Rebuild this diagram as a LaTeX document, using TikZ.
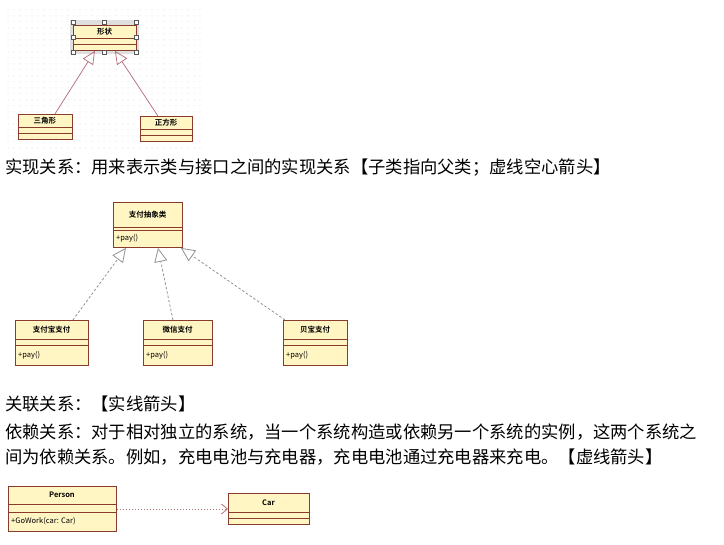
\documentclass[tikz,border=0pt]{standalone}
\usepackage{fontspec}
\setmainfont{Noto Sans CJK SC}[BoldFont={Noto Sans CJK SC Bold}]
\usetikzlibrary{arrows.meta}
\usetikzlibrary{calc}
\definecolor{umlfill}{HTML}{FFF6C4}
\definecolor{umledge}{HTML}{8A3B2E}
\definecolor{inheritline}{HTML}{B06A78}
\tikzstyle{umlbox}=[draw=umledge,fill=umlfill,line width=0.9pt,anchor=north west,inner sep=0pt]
\tikzstyle{umltitle}=[font=\fontsize{7.5}{8}\selectfont\bfseries,inner sep=0pt]
\tikzstyle{umlop}=[font=\fontsize{7.5}{8}\selectfont,inner sep=0pt,anchor=west]
\tikzstyle{inherit}=[draw=inheritline,line width=0.7pt,-{Triangle[open,length=13pt,width=12pt]}]
\tikzstyle{realize}=[draw=gray!85,line width=0.8pt,dash pattern=on 2.5pt off 2pt,-{Triangle[open,length=14pt,width=13pt]}]
\tikzstyle{depend}=[draw=umledge!70,line width=0.8pt,dash pattern=on 1.5pt off 1.5pt,-{Straight Barb[length=6pt,width=10pt]}]
\tikzstyle{para}=[font=\fontsize{17.3}{18}\selectfont,anchor=west,inner sep=0pt]
\tikzstyle{handle}=[draw=gray!70!black,fill=white,line width=0.5pt,minimum size=4pt,inner sep=0pt]
% Syntax: {name}{x1}{y1}{x2}{y2}{title}{first line}{second line}{operation}
\newcommand{\umlclass}[9]{
\node[umlbox,minimum width={(#4-#2)*1pt},minimum height={(#5-#3)*1pt}] (#1) at (#2,#3) {};
\node[umltitle] (#1-title) at ({(#2+#4)/2},{(#3+#7)/2}) {#6};
\draw[umledge,line width=0.9pt] (#2,#7) -- (#4,#7) (#2,#8) -- (#4,#8);
\node[umlop] (#1-op) at (#2+3,{(#8+#5)/2}) {#9};
}
\begin{document}
\begin{tikzpicture}[x=1pt,y=-1pt]
\useasboundingbox[fill=white] (0,0) rectangle (724,545);
% dotted canvas of the first diagram
\foreach \gx in {8,14,...,200}
  \foreach \gy in {10,16,...,148}
    \fill[gray!35] (\gx,\gy) circle (0.5pt);
\fill[gray!25] (70,20) rectangle (139,54);
\umlclass{shape}{73}{25}{136}{50}{形状}{38}{44}{}
\foreach \hx/\hy [count=\k] in {73/22,104/22,136/22,73/37,136/37,73/52,104/52,136/52}
  \node[handle] (h\k) at (\hx,\hy) {};
\umlclass{triangle}{18}{114}{72}{139}{三角形}{127}{133}{}
\umlclass{square}{140}{116}{192}{141}{正方形}{129}{135}{}
\draw[inherit] ([xshift=-18pt]triangle.north east) -- ([xshift=-10pt]shape.south);
\draw[inherit] ([xshift=-35pt]square.north east) -- ([xshift=10pt]shape.south);

\node[para] (t1) at (5,168) {实现关系：用来表示类与接口之间的实现关系【子类指向父类；虚线空心箭头】};

\umlclass{pay}{113}{202}{182}{247}{支付抽象类}{227}{230}{+pay()}
\umlclass{alipay}{15}{320}{88}{365}{支付宝支付}{339}{345}{+pay()}
\umlclass{wechat}{143}{320}{212}{365}{微信支付}{339}{345}{+pay()}
\umlclass{beibao}{283}{320}{347}{365}{贝宝支付}{339}{345}{+pay()}
\draw[realize] ([xshift=-16pt]alipay.north east) -- ([xshift=-22pt]pay.south);
\draw[realize] ([xshift=-5pt]wechat.north) -- ([xshift=10pt]pay.south);
\draw[realize] ([xshift=2pt]beibao.north west) -- ([xshift=-2pt]pay.south east);

\node[para] (t2) at (5,404) {关联关系：【实线箭头】};
\node[para] (t3) at (5,432) {依赖关系：对于相对独立的系统，当一个系统构造或依赖另一个系统的实例，这两个系统之};
\node[para] (t4) at (5,457) {间为依赖关系。例如，充电电池与充电器，充电电池通过充电器来充电。【虚线箭头】};

\umlclass{person}{8}{486}{116}{531}{Person}{504}{512}{+GoWork(car: Car)}
\umlclass{car}{228}{493}{309}{524}{Car}{512}{518}{}
\draw[depend] (person.east |- 0,509) -- (car.west |- 0,509);
\end{tikzpicture}
\end{document}
